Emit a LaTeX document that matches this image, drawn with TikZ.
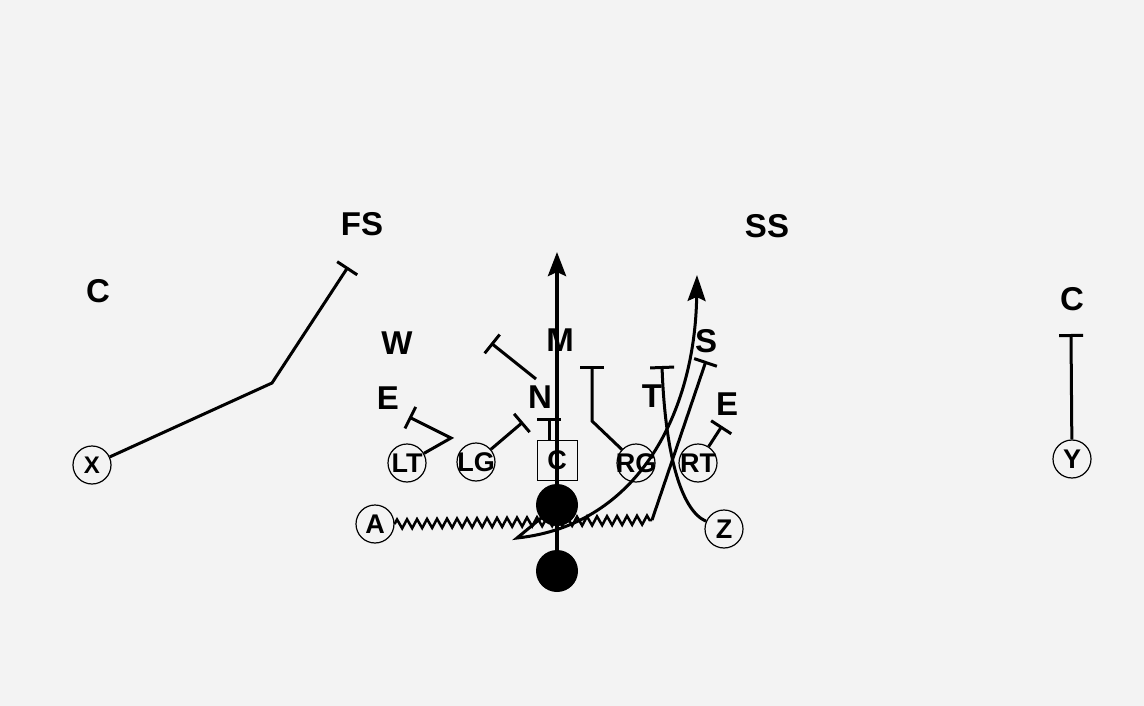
\documentclass[tikz,border=0pt]{standalone}
\usepackage{fontspec}
\setmainfont{Liberation Sans}
\usetikzlibrary{arrows.meta,decorations.pathmorphing}
\definecolor{bg}{RGB}{243,243,243}
\newcommand{\plname}[1]{\makebox[0pt]{#1}}
\tikzset{
  player/.style={circle, draw, line width=1.2pt, minimum size=38pt, inner sep=0pt,
    font=\fontsize{27}{27}\selectfont\bfseries},
  lab/.style={anchor=base, inner sep=0pt, font=\fontsize{33}{33}\selectfont\bfseries},
  blk/.style={line width=3pt, -{Bar[width=24pt]}},
  route/.style={line width=3pt},
  disc/.style={circle, fill=black, minimum size=42pt, inner sep=0pt},
}
\begin{document}
\begin{tikzpicture}[x=1pt,y=-1pt]
\fill[bg] (0,0) rectangle (1144,706);
\useasboundingbox (0,0) rectangle (1144,706);

% labels
\node[lab] (lFS) at (362,236) {FS};
\node[lab] (lSS) at (767,237) {SS};
\node[lab] (lCl) at (98,302) {C};
\node[lab] (lCr) at (1072,310) {C};
\node[lab] (lW) at (397,354) {W};
\node[lab] (lM) at (560,351) {M};
\node[lab] (lEl) at (388,409) {E};
\node[lab] (lN) at (540,408) {N};
\node[lab] (lT) at (652,407) {T};
\node[lab] (lS) at (706,352) {S};
\node[lab] (lEr) at (727,415) {E};

% players
\node[player, font=\fontsize{24}{24}\selectfont\bfseries] (X) at (92,465) {\plname{X}};
\node[player] (LT) at (407,463) {\plname{LT}};
\node[player] (LG) at (476,462) {\plname{LG}};
\node[draw, line width=1pt, minimum size=40pt, inner sep=0pt,
  font=\fontsize{27}{27}\selectfont\bfseries] (Cb) at (557,460) {\plname{C}};
\node[player] (RG) at (636,463) {\plname{RG}};
\node[player] (RT) at (698,463) {\plname{RT}};
\node[player] (Y) at (1072,459) {\plname{Y}};
\node[player] (A) at (375,524) {\plname{A}};
\node[player] (Z) at (724,529) {\plname{Z}};

% coordinates
\coordinate (xb) at (272,383);
\coordinate (xe) at (348,267);
\coordinate (ltb) at (451,438);
\coordinate (lte) at (409,417);
\coordinate (lge) at (523,422);
\coordinate (ns) at (536,379);
\coordinate (ne) at (491,343);
\coordinate (ce) at (549,418);
\coordinate (rgb) at (592,421);
\coordinate (rge) at (592,366);
\coordinate (rte) at (722,426);
\coordinate (ye) at (1071,334);
\coordinate (zc) at (652,520);
\coordinate (se) at (706,361);
\coordinate (te) at (662,366);
\coordinate (rb1) at (517,538);
\coordinate (rbe) at (697,275);
\coordinate (qbe) at (557,252);

% discs
\node[disc] (D1) at (557,505) {};
\node[disc] (D2) at (557,571) {};

% blocks
\draw[blk] (X) -- (xb) -- (xe);
\draw[blk] (LT) -- (ltb) -- (lte);
\draw[blk] (LG) -- (lge);
\draw[blk] (ns) -- (ne);
\draw[blk] (Cb.north -| ce) -- (ce);
\draw[blk] (RG) -- (rgb) -- (rge);
\draw[blk] (RT) -- (rte);
\draw[blk] (Y) -- (ye);

% routes
\draw[line width=2.5pt, decorate, decoration={zigzag, segment length=10pt, amplitude=4.5pt}] (A.east) -- (zc);
\draw[blk] (zc) -- (se);
\draw[blk] (Z) .. controls (680,510) and (665,450) .. (te);
\draw[route, -{Stealth[length=26pt,width=18pt,inset=4pt]}] (D1.center) -- (rb1) .. controls (640,525) and (695,410) .. (rbe);
\draw[line width=4pt, -{Stealth[length=24pt,width=18pt,inset=4pt]}] (D2.center) -- (qbe);
\end{tikzpicture}
\end{document}
